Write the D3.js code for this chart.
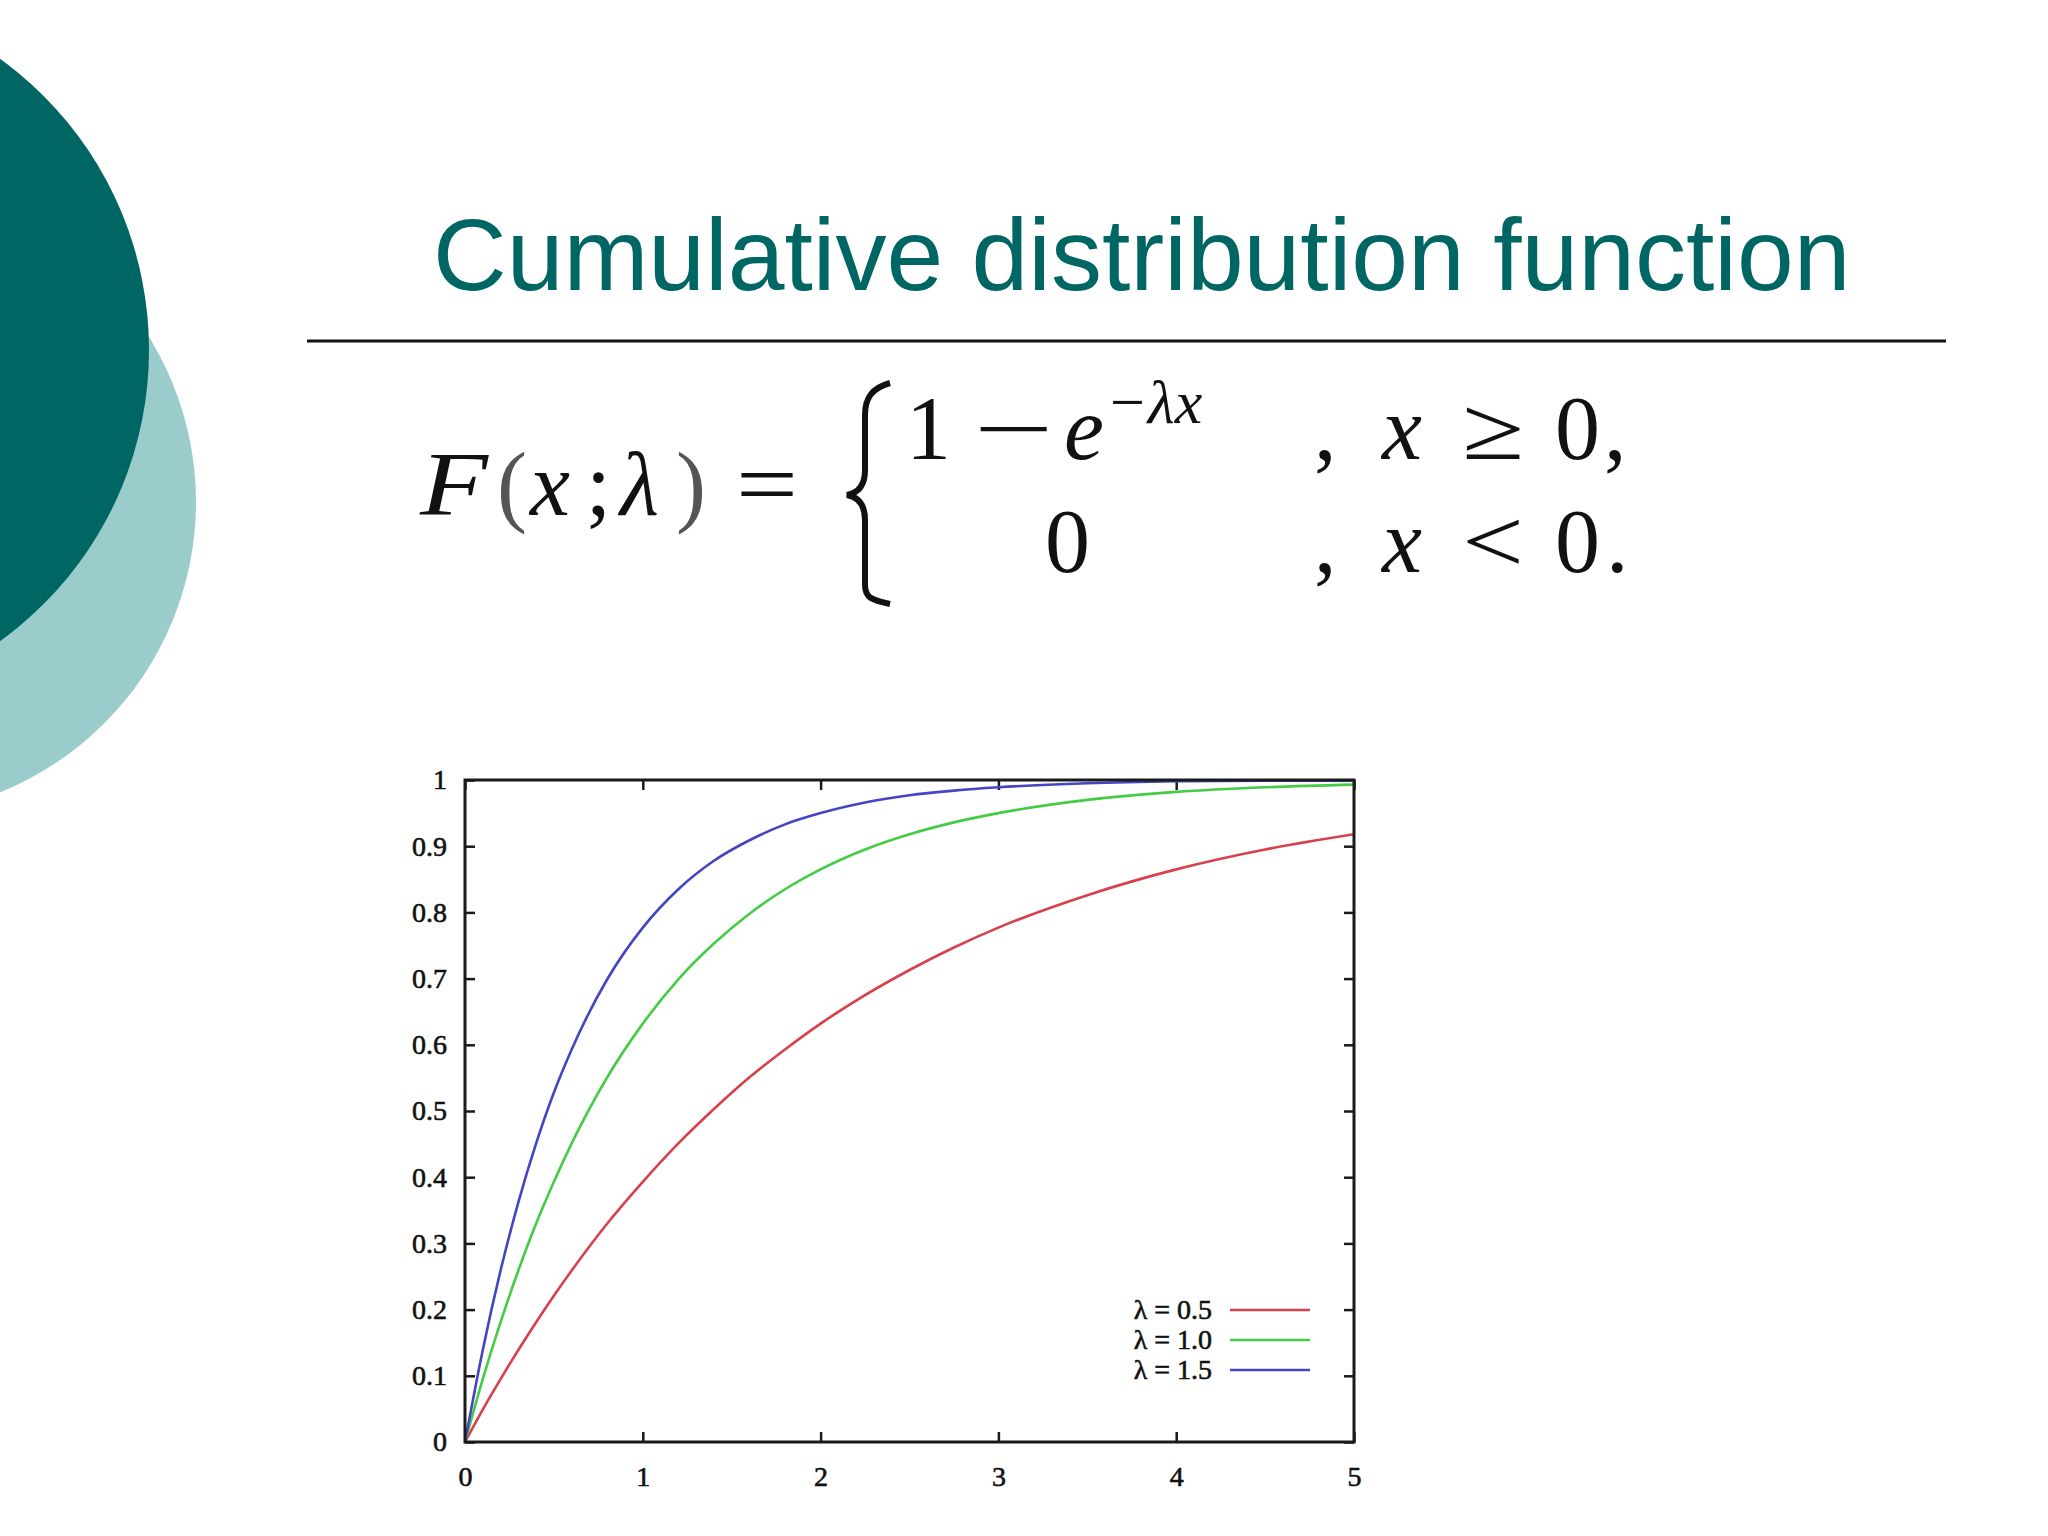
<!DOCTYPE html>
<html><head><meta charset="utf-8">
<script src="https://cdn.jsdelivr.net/npm/d3@7"></script>
<style>body{margin:0;background:#fff}svg{display:block}</style>
</head><body>
<svg id="c" width="2048" height="1536"></svg>
<script>
// ---- data ----
const xSamples    = [0, 0.1, 0.2, 0.3, 0.4, 0.5, 0.6, 0.8, 1.0, 1.2, 1.4, 1.6, 1.8, 2.0, 2.25, 2.5, 2.75, 3.0, 3.5, 4.0, 4.5, 5.0];
const cdfLambda05 = [0, 0.049, 0.095, 0.139, 0.181, 0.221, 0.259, 0.330, 0.393, 0.451, 0.503, 0.551, 0.593, 0.632, 0.675, 0.713, 0.747, 0.777, 0.826, 0.865, 0.895, 0.918];
const cdfLambda10 = [0, 0.095, 0.181, 0.259, 0.330, 0.393, 0.451, 0.551, 0.632, 0.699, 0.753, 0.798, 0.835, 0.865, 0.895, 0.918, 0.936, 0.950, 0.970, 0.982, 0.989, 0.993];
const cdfLambda15 = [0, 0.139, 0.259, 0.362, 0.451, 0.528, 0.593, 0.699, 0.777, 0.835, 0.878, 0.909, 0.933, 0.950, 0.966, 0.977, 0.984, 0.989, 0.995, 0.998, 0.999, 0.999];
const seriesNames  = ["λ = 0.5", "λ = 1.0", "λ = 1.5"];
const seriesColors = ["#d8404c", "#44cc44", "#4444c4"];
const xTickValues = [0, 1, 2, 3, 4, 5];
const xTickLabels = ["0", "1", "2", "3", "4", "5"];
const yTickValues = [0, 0.1, 0.2, 0.3, 0.4, 0.5, 0.6, 0.7, 0.8, 0.9, 1];
const yTickLabels = ["0", "0.1", "0.2", "0.3", "0.4", "0.5", "0.6", "0.7", "0.8", "0.9", "1"];
const titleText = "Cumulative distribution function";

const svg = d3.select("#c");
svg.append("rect").attr("width", 2048).attr("height", 1536).attr("fill", "#fff");

// ---- slide decoration ----
svg.append("circle").attr("cx", -117).attr("cy", 502).attr("r", 313).attr("fill", "#9bcccc");
svg.append("circle").attr("cx", -210).attr("cy", 350).attr("r", 359).attr("fill", "#006663");

svg.append("text").attr("x", 433).attr("y", 290)
  .attr("font-family", "'Liberation Sans', Arial, sans-serif").attr("font-size", 102)
  .attr("fill", "#006663").text(titleText);
svg.append("line").attr("x1", 307).attr("x2", 1946).attr("y1", 341).attr("y2", 341)
  .attr("stroke", "#111").attr("stroke-width", 3);

// ---- formula ----
const eq = svg.append("g").attr("font-family", "'Liberation Serif', 'Times New Roman', serif")
  .attr("fill", "#111").attr("font-size", 90);
function t(str, x, y, opts = {}) {
  const e = eq.append("text").attr("x", x).attr("y", y).text(str);
  if (opts.italic) e.attr("font-style", "italic");
  if (opts.size) e.attr("font-size", opts.size);
  if (opts.len) e.attr("textLength", opts.len).attr("lengthAdjust", "spacingAndGlyphs");
  if (opts.fill) e.attr("fill", opts.fill);
  return e;
}
t("F", 420, 515, {italic: true, len: 68});
t("(", 497, 515, {fill: "#555"});
t("x", 530, 515, {italic: true});
t(";", 586, 515);
t("λ", 620, 515, {italic: true});
t(")", 676, 515, {fill: "#555"});
t("=", 736, 515, {len: 62});
// brace
eq.append("path")
  .attr("d", "M890,383 C872,388 865,398 865,415 L865,470 C865,485 858,493 847,495 C858,497 865,505 865,520 L865,585 C865,598 872,600 890,604")
  .attr("fill", "none").attr("stroke", "#111").attr("stroke-width", 6);
// row 1
t("1", 906, 459);
t("−", 974, 459, {len: 80});
t("e", 1064, 459, {italic: true});
t("−λx", 1106, 423, {italic: true, size: 62});
t(",", 1314, 459);
t("x", 1382, 459, {italic: true});
t("≥", 1462, 459, {len: 62});
t("0", 1555, 459);
t(",", 1604, 459);
// row 2
t("0", 1045, 572);
t(",", 1314, 572);
t("x", 1382, 572, {italic: true});
t("<", 1462, 572, {len: 62});
t("0", 1555, 572);
t(".", 1606, 572);

// ---- chart ----
const L = 465, R = 1354, T = 780, B = 1442;
const x = d3.scaleLinear().domain([0, 5]).range([L, R]);
const y = d3.scaleLinear().domain([0, 1]).range([B, T]);
const tickFont = "'Liberation Serif', 'Times New Roman', serif";

svg.append("clipPath").attr("id", "plotclip").append("rect")
  .attr("x", L).attr("y", T - 2).attr("width", R - L).attr("height", B - T + 2);

function styleAxis(g) {
  g.select(".domain").remove();
  g.selectAll(".tick line").attr("stroke", "#1a1a1a").attr("stroke-width", 2.5);
  g.selectAll(".tick text").attr("font-family", tickFont).attr("font-size", 28)
    .attr("fill", "#111").attr("stroke", "#111").attr("stroke-width", 0.6);
}
svg.append("g").attr("transform", `translate(0,${B})`)
  .call(d3.axisBottom(x).tickValues(xTickValues).tickFormat((d, i) => xTickLabels[i]).tickSizeInner(-10).tickSizeOuter(0).tickPadding(24))
  .call(styleAxis);
svg.append("g").attr("transform", `translate(${L},0)`)
  .call(d3.axisLeft(y).tickValues(yTickValues).tickFormat((d, i) => yTickLabels[i]).tickSizeInner(-10).tickSizeOuter(0).tickPadding(18))
  .call(styleAxis);
svg.append("g").attr("transform", `translate(0,${T})`)
  .call(d3.axisTop(x).tickValues(xTickValues).tickFormat("").tickSizeInner(-10).tickSizeOuter(0))
  .call(styleAxis);
svg.append("g").attr("transform", `translate(${R},0)`)
  .call(d3.axisRight(y).tickValues(yTickValues).tickFormat("").tickSizeInner(-10).tickSizeOuter(0))
  .call(styleAxis);

const series = [cdfLambda05, cdfLambda10, cdfLambda15];
const line = d3.line().x((d, i) => x(xSamples[i])).y(d => y(d)).curve(d3.curveMonotoneX);
svg.append("g").attr("clip-path", "url(#plotclip)")
  .selectAll("path").data(series).join("path")
  .attr("d", line).attr("fill", "none")
  .attr("stroke", (d, i) => seriesColors[i]).attr("stroke-width", 2.6);

svg.append("rect").attr("x", L).attr("y", T).attr("width", R - L).attr("height", B - T)
  .attr("fill", "none").attr("stroke", "#1a1a1a").attr("stroke-width", 3);

// ---- legend ----
const leg = svg.append("g");
seriesNames.forEach((name, i) => {
  const cy = 1310 + i * 30;
  leg.append("text").attr("x", 1212).attr("y", cy + 9).attr("text-anchor", "end")
    .attr("font-family", tickFont).attr("font-size", 28)
    .attr("fill", "#111").attr("stroke", "#111").attr("stroke-width", 0.6).text(name);
  leg.append("line").attr("x1", 1230).attr("x2", 1310).attr("y1", cy).attr("y2", cy)
    .attr("stroke", seriesColors[i]).attr("stroke-width", 2.6);
});
</script>
</body></html>
